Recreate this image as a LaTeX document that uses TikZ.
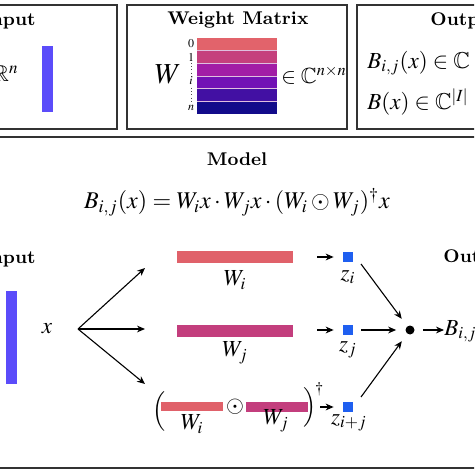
\documentclass[tikz,border=0pt]{standalone}
\usepackage{mathptmx}
\renewcommand{\rmdefault}{lmr}
\renewcommand{\bfdefault}{bx}
\usepackage{amssymb}
\usetikzlibrary{arrows.meta}
\definecolor{framec}{HTML}{333333}
\definecolor{inbar}{HTML}{5B4CFA}
\definecolor{sqblue}{HTML}{1F5FF0}
\definecolor{wsalmon}{HTML}{E0616A}
\definecolor{wmagenta}{HTML}{C33E7D}
\definecolor{rA}{HTML}{E2636B}
\definecolor{rB}{HTML}{C5407D}
\definecolor{rC}{HTML}{A21DA6}
\definecolor{rD}{HTML}{7211B5}
\definecolor{rE}{HTML}{4210A3}
\definecolor{rF}{HTML}{120B8A}
\tikzset{
  panel/.style={draw=framec, line width=0.8pt},
  title/.style={font=\rmfamily\bfseries\fontsize{9.2}{11}\selectfont, inner sep=0pt},
  mtext/.style={font=\fontsize{11}{13}\selectfont, inner sep=0pt},
  btext/.style={font=\fontsize{11.5}{13}\selectfont, inner sep=0pt},
  bar/.style={inner sep=0pt, minimum width=58pt, minimum height=6pt},
  sbar/.style={inner sep=0pt, minimum width=31pt, minimum height=4.6pt},
  sq/.style={fill=sqblue, inner sep=0pt, minimum size=5pt},
  arr/.style={-{Stealth[length=4pt,width=3.4pt]}, line width=0.55pt},
  rowlab/.style={font=\fontsize{6}{7}\selectfont, inner sep=0pt},
  vdotsline/.style={line width=0.5pt, dash pattern=on 0.4pt off 1.2pt, draw=black!70},
}
\begin{document}
\begin{tikzpicture}[x=0.5pt,y=-0.5pt]
\path[use as bounding box, clip] (0,0) rectangle (474,474);
\fill[white] (0,0) rectangle (474,474);
% top panels
\draw[panel] (-20,5) rectangle (117,129);
\draw[panel] (127,5) rectangle (347,129);
\draw[panel] (357,5) rectangle (500,129);
% model panel
\draw[panel] (-20,137) rectangle (500,468);
% input panel
\node[title, anchor=east] (tin) at (36,21) {Input};
\node[btext, anchor=east] (xin) at (19,74) {$x\in\mathbb{R}^n$};
\node[fill=inbar, inner sep=0pt, minimum width=5.5pt, minimum height=33pt] (inbar1) at (47.5,79) {};
% weight matrix panel
\node[title] (tw) at (238,20) {Weight Matrix};
\foreach \c [count=\k from 0] in {rA,rB,rC,rD,rE,rF}{
  \fill[\c] (197,{38+\k*12.67}) rectangle (277,{38+(\k+1)*12.67});
}
\foreach \k in {1,...,5}{
  \draw[white!75!violet, line width=0.5pt] (197,{38+\k*12.67}) -- (277,{38+\k*12.67});
}
\node[rowlab] (l0) at (191,44) {$0$};
\node[rowlab] (l1) at (191,57) {$1$};
\draw[vdotsline] (191,63) -- (191,76);
\node[rowlab] (li) at (191,81) {$i$};
\draw[vdotsline] (191,88) -- (191,102);
\node[rowlab] (ln) at (191,108) {$n$};
\node[font=\fontsize{14.5}{16}\selectfont, inner sep=0pt] (wbig) at (168,74) {$W$};
\node[mtext, anchor=west] (wdim) at (281,75) {$\in\mathbb{C}^{n\times n}$};
% output panel
\node[title, anchor=west] (tout) at (430,21) {Output};
\node[btext, anchor=west] (bij) at (367,63) {$B_{i,j}(x)\in\mathbb{C}$};
\node[btext, anchor=west] (bx) at (367,102) {$B(x)\in\mathbb{C}^{|I|}$};
% model
\node[title] (tm) at (237,159) {Model};
\node[font=\fontsize{12}{14}\selectfont, inner sep=0pt] (eq) at (237,202) {$B_{i,j}(x) = W_i x\cdot W_j x\cdot (W_i\odot W_j)^{\dagger} x$};
% bottom left input
\node[title, anchor=east] (tin2) at (36,259) {Input};
\node[fill=inbar, inner sep=0pt, minimum width=5.5pt, minimum height=46.5pt] (inbar2) at (11.5,337.5) {};
\node[btext] (xl) at (47,329) {$x$};
\coordinate (o) at (78,329);
\coordinate (t1) at (145,268);
\coordinate (t2) at (145,329);
\coordinate (t3) at (145,384);
\draw[arr] (o) -- (t1);
\draw[arr] (o) -- (t2);
\draw[arr] (o) -- (t3);
% bars
\node[bar, fill=wsalmon] (bi) at (235,257) {};
\node[btext] (lbi) at (235,280) {$W_i$};
\node[bar, fill=wmagenta] (bj) at (235,330.5) {};
\node[btext] (lbj) at (235,353) {$W_j$};
\node[mtext] (lp) at (159,411) {$\Big($};
\node[sbar, fill=wsalmon] (sbi) at (192,406.5) {};
\node[btext] (lsbi) at (192,424) {$W_i$};
\node[btext] (od) at (235,407) {$\odot$};
\node[sbar, fill=wmagenta] (sbj) at (277,407) {};
\node[btext] (lsbj) at (276,421) {$W_j$};
\node[mtext] (rp) at (314,405) {$\Big)^{\!\dagger}$};
% squares
\node[sq] (s1) at (348,257) {};
\node[sq] (s2) at (348,330) {};
\node[sq] (s3) at (348,407) {};
\node[btext] (z1) at (348,277) {$z_i$};
\node[btext] (z2) at (348,350) {$z_j$};
\node[btext] (z3) at (349,423) {$z_{i+j}$};
\coordinate (a1) at (317,257);
\coordinate (a2) at (317,330);
\coordinate (a3) at (320,407);
\draw[arr, shorten >=4.5pt] (a1) -- (s1.west);
\draw[arr, shorten >=4.5pt] (a2) -- (s2.west);
\draw[arr, shorten >=4.5pt] (a3) -- (s3.west);
% merge
\node[circle, fill=black, inner sep=0pt, minimum size=4.5pt] (dot) at (410,330) {};
\coordinate (c1) at (361,264);
\coordinate (c2) at (361,330);
\coordinate (c3) at (361,397);
\draw[arr, shorten >=4.5pt] (c1) -- (dot);
\draw[arr, shorten >=4.5pt] (c2) -- (dot);
\draw[arr, shorten >=4.5pt] (c3) -- (dot);
% output
\node[title, anchor=west] (tout2) at (443,258) {Output};
\node[btext, anchor=west] (bo) at (444,330) {$B_{i,j}(x)$};
\draw[arr, shorten <=4pt] (dot) -- (bo.west);
\end{tikzpicture}
\end{document}
